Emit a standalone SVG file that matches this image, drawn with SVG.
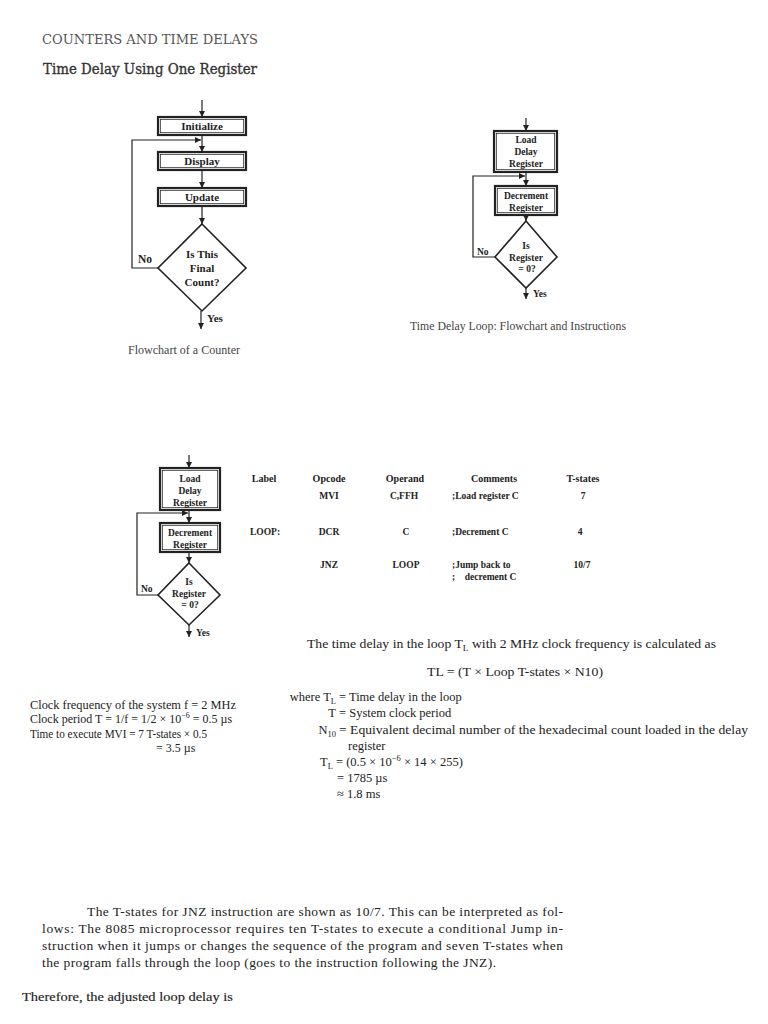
<svg xmlns="http://www.w3.org/2000/svg" width="768" height="1024" viewBox="0 0 768 1024">
<defs>
<marker id="arr" viewBox="0 0 10 10" refX="10" refY="5" markerWidth="6" markerHeight="6" markerUnits="userSpaceOnUse" orient="auto">
<path d="M0,0 L10,5 L0,10 z" fill="#222"/>
</marker>
<style>
.bx{fill:#fff;stroke:#222;stroke-width:2.2}
.bi{fill:none;stroke:#222;stroke-width:0.8}
.dm{fill:#fff;stroke:#222;stroke-width:1.6}
.ln{fill:none;stroke:#222;stroke-width:1.2}
.ft{font-family:"Liberation Serif",serif;font-weight:bold;fill:#222;text-anchor:middle}
.f1{font-size:11px}
.f2{font-size:9.5px}
.lb{font-family:"Liberation Serif",serif;font-weight:bold;fill:#222}
.cap{font-family:"Liberation Serif",serif;fill:#444;font-size:11.5px}
.th{font-family:"Liberation Serif",serif;font-weight:bold;fill:#222;font-size:10px;text-anchor:middle}
.tm{font-family:"Liberation Serif",serif;font-weight:bold;fill:#222;font-size:9.5px;text-anchor:middle}
.td{font-family:"Liberation Serif",serif;font-weight:bold;fill:#222;font-size:9.5px}
.tx{font-family:"Liberation Serif",serif;fill:#222}
.px{font-family:"Liberation Serif",serif;fill:#222;font-size:13.5px}
</style>
</defs>
<rect width="768" height="1024" fill="#fff"/>

<text x="42" y="44" font-family="DejaVu Serif,serif" font-size="13.5px" fill="#555" textLength="216" lengthAdjust="spacingAndGlyphs">COUNTERS AND TIME DELAYS</text>
<text x="43" y="74" font-family="DejaVu Serif,serif" font-size="14.5px" fill="#333" stroke="#333" stroke-width="0.35" textLength="214" lengthAdjust="spacingAndGlyphs">Time Delay Using One Register</text>

<g id="connectors">
<line class="ln" x1="202" y1="100" x2="202" y2="117" marker-end="url(#arr)"/>
<line class="ln" x1="202" y1="135" x2="202" y2="152" marker-end="url(#arr)"/>
<line class="ln" x1="202" y1="170" x2="202" y2="188" marker-end="url(#arr)"/>
<line class="ln" x1="202" y1="206" x2="202" y2="224" marker-end="url(#arr)"/>
<polyline class="ln" points="158,268 132,268 132,140 201,140" marker-end="url(#arr)"/>
<line class="ln" x1="201" y1="311" x2="201" y2="329" marker-end="url(#arr)"/>

<line class="ln" x1="526" y1="118" x2="526" y2="131" marker-end="url(#arr)"/>
<line class="ln" x1="526" y1="172" x2="526" y2="186" marker-end="url(#arr)"/>
<line class="ln" x1="526" y1="215" x2="526" y2="221" marker-end="url(#arr)"/>
<polyline class="ln" points="495,257 473,257 473,176 525,176" marker-end="url(#arr)"/>
<line class="ln" x1="526" y1="288" x2="526" y2="299" marker-end="url(#arr)"/>

<line class="ln" x1="189" y1="455" x2="189" y2="468" marker-end="url(#arr)"/>
<line class="ln" x1="189" y1="510" x2="189" y2="523" marker-end="url(#arr)"/>
<line class="ln" x1="189" y1="552" x2="189" y2="563" marker-end="url(#arr)"/>
<polyline class="ln" points="158,595 137,595 137,513 188,513" marker-end="url(#arr)"/>
<line class="ln" x1="189" y1="625" x2="189" y2="637" marker-end="url(#arr)"/>
</g>

<g id="n-initialize"><rect class="bx" x="158" y="117" width="88" height="18"/><rect class="bi" x="160.3" y="119.3" width="83.4" height="13.4"/><text class="ft f1" x="202" y="130">Initialize</text></g>
<g id="n-display"><rect class="bx" x="158" y="152" width="88" height="18"/><rect class="bi" x="160.3" y="154.3" width="83.4" height="13.4"/><text class="ft f1" x="202" y="165">Display</text></g>
<g id="n-update"><rect class="bx" x="158" y="188" width="88" height="18"/><rect class="bi" x="160.3" y="190.3" width="83.4" height="13.4"/><text class="ft f1" x="202" y="201">Update</text></g>
<g id="n-final"><polygon class="dm" points="202,224 246,268 202,311 158,268"/><text class="ft f1" x="202" y="258">Is This</text><text class="ft f1" x="202" y="272">Final</text><text class="ft f1" x="202" y="286">Count?</text></g>
<text class="lb" x="138" y="263" style="font-size:11.5px">No</text>
<text class="lb" x="207" y="322" style="font-size:11px">Yes</text>
<text class="cap" x="128" y="354" textLength="112" lengthAdjust="spacingAndGlyphs">Flowchart of a Counter</text>

<g id="n-load1"><rect class="bx" x="494" y="131" width="63" height="41"/><rect class="bi" x="496.3" y="133.3" width="58.4" height="36.4"/><text class="ft f2" x="526" y="143">Load</text><text class="ft f2" x="526" y="155">Delay</text><text class="ft f2" x="526" y="167">Register</text></g>
<g id="n-dec1"><rect class="bx" x="495" y="186" width="62" height="29"/><rect class="bi" x="497.3" y="188.3" width="57.4" height="24.4"/><text class="ft f2" x="526" y="199">Decrement</text><text class="ft f2" x="526" y="211">Register</text></g>
<g id="n-zero1"><polygon class="dm" points="526,221 557,257 526,288 495,257"/><text class="ft f2" x="526" y="249">Is</text><text class="ft f2" x="526" y="261">Register</text><text class="ft f2" x="527" y="272">= 0?</text></g>
<text class="lb" x="477" y="255" style="font-size:9.5px">No</text>
<text class="lb" x="533" y="297" style="font-size:9.5px">Yes</text>
<text class="cap" x="410" y="330" textLength="216" lengthAdjust="spacingAndGlyphs">Time Delay Loop: Flowchart and Instructions</text>

<g id="n-load2"><rect class="bx" x="160" y="468" width="60" height="42"/><rect class="bi" x="162.3" y="470.3" width="55.4" height="37.4"/><text class="ft f2" x="190" y="482">Load</text><text class="ft f2" x="190" y="494">Delay</text><text class="ft f2" x="190" y="506">Register</text></g>
<g id="n-dec2"><rect class="bx" x="160" y="523" width="60" height="29"/><rect class="bi" x="162.3" y="525.3" width="55.4" height="24.4"/><text class="ft f2" x="190" y="536">Decrement</text><text class="ft f2" x="190" y="548">Register</text></g>
<g id="n-zero2"><polygon class="dm" points="189,563 220,595 189,625 158,595"/><text class="ft f2" x="189" y="585">Is</text><text class="ft f2" x="189" y="597">Register</text><text class="ft f2" x="190" y="608">= 0?</text></g>
<text class="lb" x="141" y="592" style="font-size:9.5px">No</text>
<text class="lb" x="196" y="636" style="font-size:9.5px">Yes</text>

<g id="table">
<text class="th" x="264" y="482">Label</text>
<text class="th" x="329" y="482">Opcode</text>
<text class="th" x="405" y="482">Operand</text>
<text class="th" x="494" y="482">Comments</text>
<text class="th" x="583" y="482">T-states</text>
<text class="tm" x="329" y="499">MVI</text>
<text class="tm" x="404" y="499">C,FFH</text>
<text class="td" x="452" y="499">;Load register C</text>
<text class="tm" x="583" y="499">7</text>
<text class="td" x="250" y="535">LOOP:</text>
<text class="tm" x="329" y="535">DCR</text>
<text class="tm" x="406" y="535">C</text>
<text class="td" x="452" y="535">;Decrement C</text>
<text class="tm" x="580" y="535">4</text>
<text class="tm" x="329" y="568">JNZ</text>
<text class="tm" x="406" y="568">LOOP</text>
<text class="td" x="452" y="568">;Jump back to</text>
<text class="tm" x="582" y="568">10/7</text>
<text class="td" x="452" y="580" xml:space="preserve">;    decrement C</text>
</g>

<g id="formulas" style="font-size:12.5px">
<text class="tx" x="307" y="648" textLength="409" lengthAdjust="spacingAndGlyphs">The time delay in the loop T<tspan style="font-size:8.5px" dy="3">L</tspan><tspan dy="-3"> with 2 MHz clock frequency is calculated as</tspan></text>
<text class="tx" x="427" y="676" textLength="176" lengthAdjust="spacingAndGlyphs">TL = (T × Loop T-states × N10)</text>
<text class="tx" x="336" y="701" text-anchor="end">where T<tspan style="font-size:8.5px" dy="3">L</tspan></text>
<text class="tx" x="339" y="701">= Time delay in the loop</text>
<text class="tx" x="336" y="717" text-anchor="end">T</text>
<text class="tx" x="339" y="717">= System clock period</text>
<text class="tx" x="336" y="734" text-anchor="end">N<tspan style="font-size:8.5px" dy="3">10</tspan></text>
<text class="tx" x="339" y="734" textLength="409" lengthAdjust="spacingAndGlyphs">= Equivalent decimal number of the hexadecimal count loaded in the delay</text>
<text class="tx" x="348" y="750">register</text>
<text class="tx" x="320" y="766">T<tspan style="font-size:8.5px" dy="3">L</tspan><tspan dy="-3"> = (0.5 × 10</tspan><tspan style="font-size:8.5px" dy="-5">−6</tspan><tspan dy="5"> × 14 × 255)</tspan></text>
<text class="tx" x="337" y="782">= 1785 µs</text>
<text class="tx" x="337" y="798">≈ 1.8 ms</text>
</g>

<g id="clock" style="font-size:12px">
<text class="tx" x="30" y="709" textLength="206" lengthAdjust="spacingAndGlyphs">Clock frequency of the system f = 2 MHz</text>
<text class="tx" x="30" y="723">Clock period T = 1/f = 1/2 × 10<tspan style="font-size:8px" dy="-5">−6</tspan><tspan dy="5"> = 0.5 µs</tspan></text>
<text class="tx" x="30" y="738" textLength="177" lengthAdjust="spacingAndGlyphs">Time to execute MVI = 7 T-states × 0.5</text>
<text class="tx" x="156" y="752">= 3.5 µs</text>
</g>

<g id="paragraph">
<text class="px" x="87" y="916" textLength="476" lengthAdjust="spacing">The T-states for JNZ instruction are shown as 10/7. This can be interpreted as fol-</text>
<text class="px" x="42" y="933" textLength="521" lengthAdjust="spacing">lows: The 8085 microprocessor requires ten T-states to execute a conditional Jump in-</text>
<text class="px" x="42" y="950" textLength="521" lengthAdjust="spacing">struction when it jumps or changes the sequence of the program and seven T-states when</text>
<text class="px" x="42" y="967" textLength="454" lengthAdjust="spacing">the program falls through the loop (goes to the instruction following the JNZ).</text>
<text class="px" x="22" y="1001" style="font-size:12.5px" stroke="#222" stroke-width="0.15" textLength="211" lengthAdjust="spacingAndGlyphs">Therefore, the adjusted loop delay is</text>
</g>
</svg>
